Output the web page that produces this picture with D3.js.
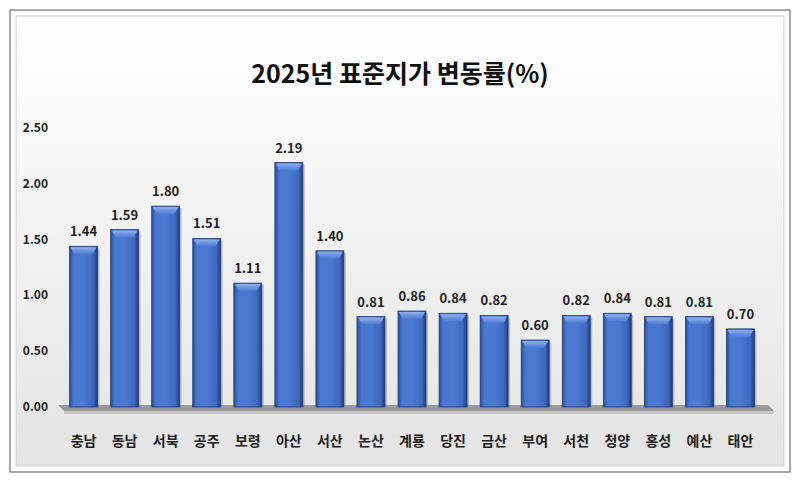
<!DOCTYPE html>
<html><head><meta charset="utf-8">
<script src="https://cdn.jsdelivr.net/npm/d3@7"></script>
<style>body{margin:0;background:#fff}</style>
</head><body>
<svg id="c" width="800" height="482"></svg>
<script>
const regions = ['충남','동남','서북','공주','보령','아산','서산','논산','계룡','당진','금산','부여','서천','청양','홍성','예산','태안'];
const rates = [1.44,1.59,1.80,1.51,1.11,2.19,1.40,0.81,0.86,0.84,0.82,0.60,0.82,0.84,0.81,0.81,0.70];
const yTicks = [0,0.5,1,1.5,2,2.5];

const svg = d3.select('#c');
const defs = svg.append('defs');
const bg = defs.append('linearGradient').attr('id','bg').attr('x1',0).attr('y1',0).attr('x2',0).attr('y2',1);
bg.append('stop').attr('offset','0%').attr('stop-color','#ffffff');
bg.append('stop').attr('offset','100%').attr('stop-color','#e4e4e4');
const bar = defs.append('linearGradient').attr('id','bar').attr('x1',0).attr('y1',0).attr('x2',1).attr('y2',0);
[['0%','#2a4f9c'],['15%','#4a78d0'],['50%','#4b79d2'],['85%','#3e68bd'],['100%','#1f3c7c']]
  .forEach(([o,c]) => bar.append('stop').attr('offset',o).attr('stop-color',c));
const cap = defs.append('linearGradient').attr('id','cap').attr('x1',0).attr('y1',0).attr('x2',0).attr('y2',1);
cap.append('stop').attr('offset','0%').attr('stop-color','#8fb0ec');
cap.append('stop').attr('offset','100%').attr('stop-color','#4b79d2');

svg.append('rect').attr('x',10).attr('y',10).attr('width',780).attr('height',462)
  .attr('fill','#fff').attr('stroke','#555').attr('stroke-width',1);
svg.append('rect').attr('x',16).attr('y',16).attr('width',768).attr('height',450)
  .attr('fill','url(#bg)').attr('stroke','#ccc');

svg.append('text').attr('x',400).attr('y',83).attr('text-anchor','middle')
  .attr('font-family','"Liberation Sans Narrow","Noto Sans CJK KR",sans-serif')
  .attr('font-weight','bold').attr('font-size',25).attr('fill','#111')
  .text('2025년 표준지가 변동률(%)');

const x = d3.scaleBand().domain(regions).range([63,761]).paddingInner(0.32).paddingOuter(0.16);
const y = d3.scaleLinear().domain([0,2.5]).range([407,128]);
const font = '"Liberation Sans Narrow","Noto Sans CJK KR",sans-serif';

svg.append('g').selectAll('text').data(yTicks).join('text')
  .attr('x',48).attr('y',d => y(d)+4).attr('text-anchor','end')
  .attr('font-family',font).attr('font-weight','bold').attr('font-size',12).attr('fill','#222')
  .text(d => d.toFixed(2));

// floor
svg.append('path')
  .attr('d',`M58,${y(0)-2} L768,${y(0)-2} L774,${y(0)+4} L64,${y(0)+4} Z`)
  .attr('fill','#9a9a9a');
svg.append('rect').attr('x',64).attr('y',y(0)+4).attr('width',710).attr('height',3).attr('fill','#c8c8c8');

const g = svg.append('g');
regions.forEach((r,i) => {
  const bx = x(r), bw = x.bandwidth(), top = y(rates[i]);
  g.append('rect').attr('x',bx+2).attr('y',top+2).attr('width',bw).attr('height',y(0)-top-2)
    .attr('fill','#8a8a8a').attr('opacity',0.5);
  g.append('rect').attr('x',bx).attr('y',top).attr('width',bw).attr('height',y(0)-top)
    .attr('fill','url(#bar)').attr('stroke','#1e3a78').attr('stroke-width',0.8);
  g.append('path')
    .attr('d',`M${bx+1},${top+1} L${bx+bw-1},${top+1} L${bx+bw-5},${top+8} L${bx+5},${top+8} Z`)
    .attr('fill','url(#cap)');
  g.append('text').attr('x',bx+bw/2).attr('y',top-10).attr('text-anchor','middle')
    .attr('font-family',font).attr('font-weight','bold').attr('font-size',13).attr('fill','#222')
    .text(rates[i].toFixed(2));
  g.append('text').attr('x',bx+bw/2).attr('y',446).attr('text-anchor','middle')
    .attr('font-family','"Noto Sans CJK KR",sans-serif').attr('font-weight','bold').attr('font-size',14).attr('fill','#222')
    .text(r);
});
</script>
</body></html>
